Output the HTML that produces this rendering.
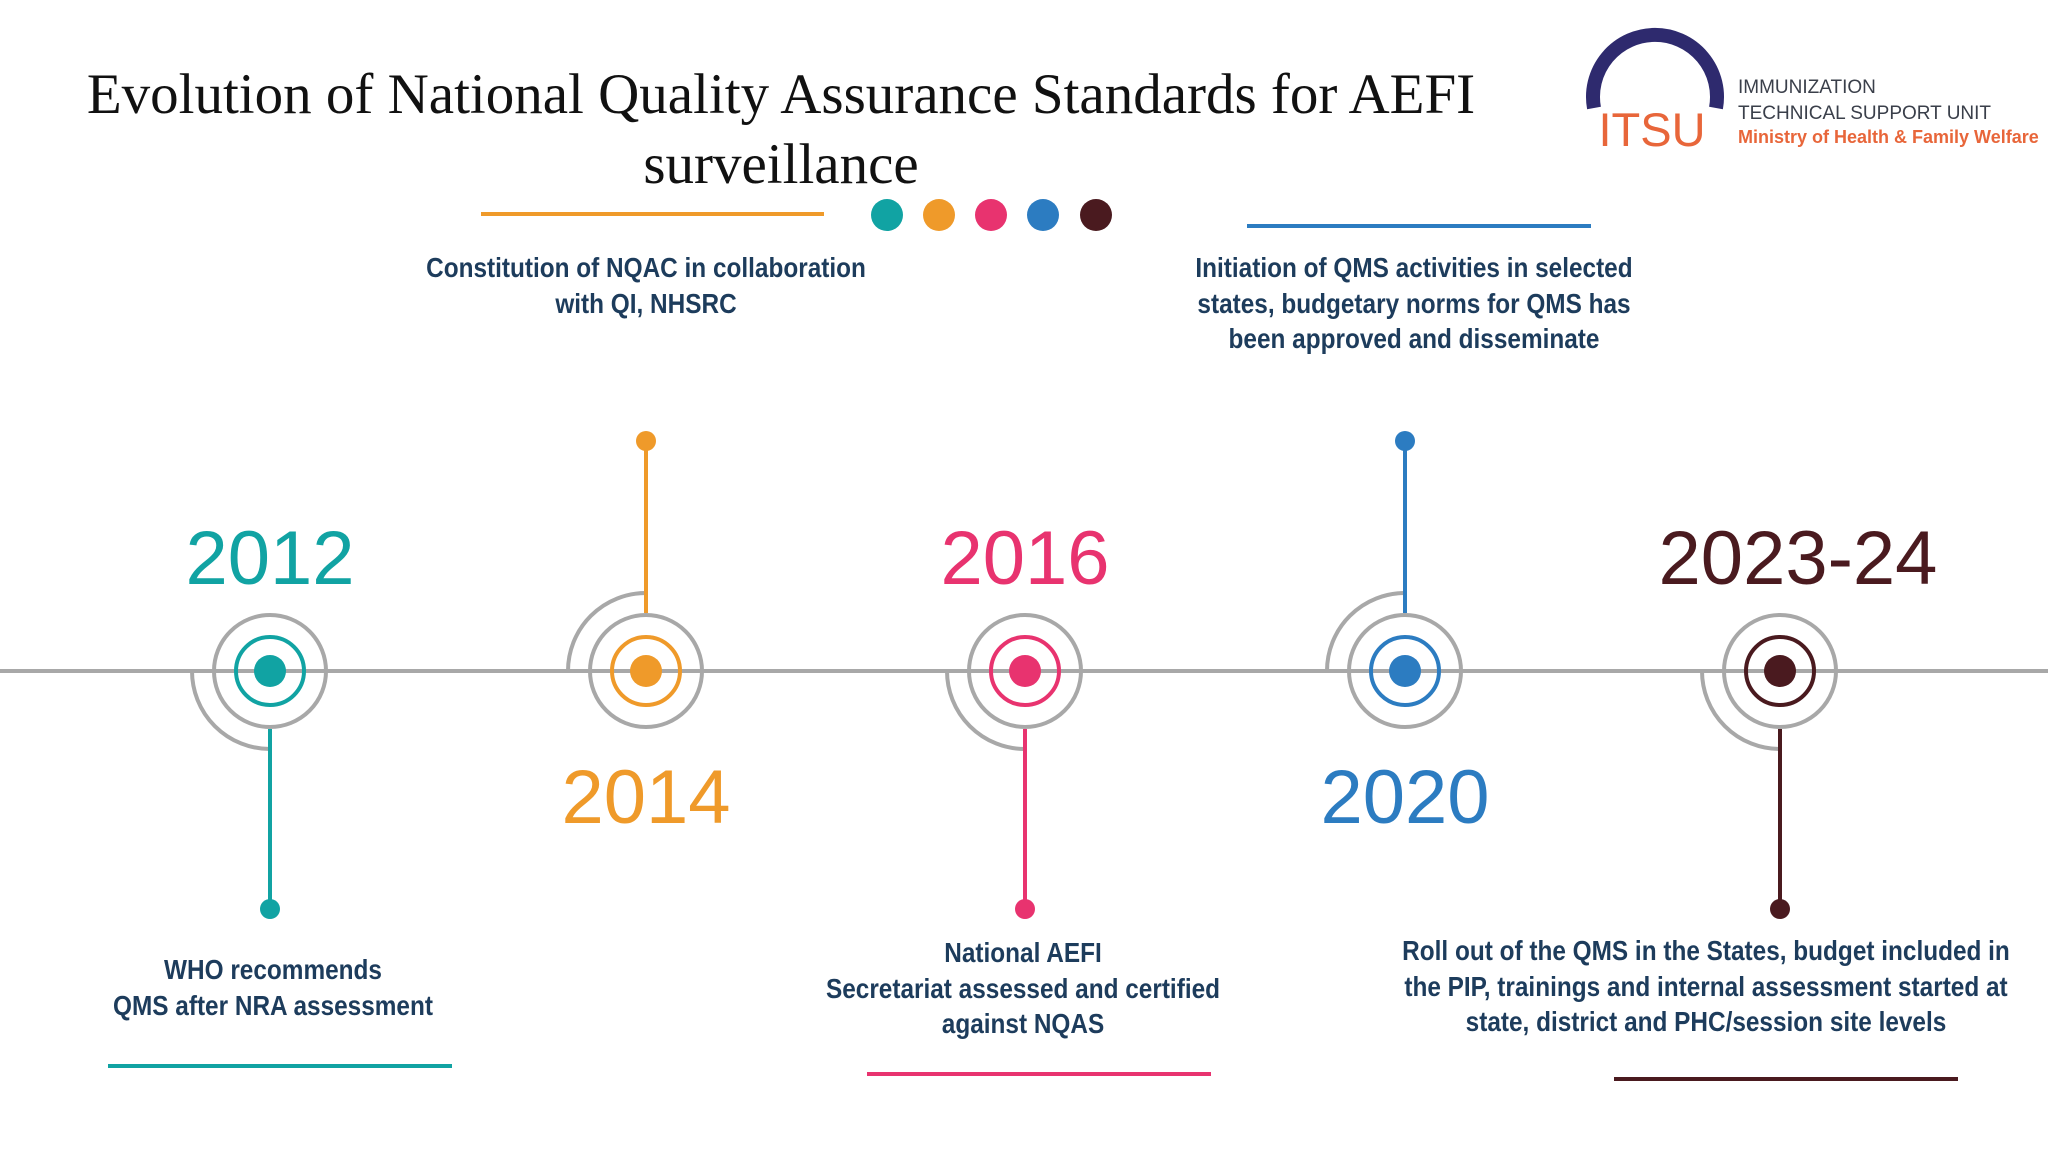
<!DOCTYPE html>
<html><head><meta charset="utf-8">
<style>
html,body{margin:0;padding:0;background:#fff;}
#wrap{position:relative;width:2048px;height:1152px;overflow:hidden;background:#fff;}
.title{position:absolute;left:0;width:1562px;top:60px;text-align:center;font-family:"Liberation Serif",serif;font-size:57px;line-height:70px;color:#111;}
.desc{position:absolute;font-family:"Liberation Sans Narrow","Liberation Sans",sans-serif;font-weight:bold;font-size:28px;line-height:35.5px;color:#1d3c5c;text-align:center;white-space:nowrap;transform:translateX(-50%) scaleX(0.87);}
</style></head>
<body>
<div id="wrap">
<div class="title">Evolution of National Quality Assurance Standards for AEFI<br>surveillance</div>

<svg id="logo" style="position:absolute;left:0;top:0" width="2048" height="200">
  <path d="M1594,108 A62,62 0 1 1 1716,108" fill="none" stroke="#2e2a6e" stroke-width="14"/>
  <text x="1652" y="146" text-anchor="middle" font-family="Liberation Sans, sans-serif" font-size="47" fill="#e8663a">ITSU</text>
  <text x="1738" y="93" font-family="Liberation Sans, sans-serif" font-size="19" fill="#3a3f4a">IMMUNIZATION</text>
  <text x="1738" y="119" font-family="Liberation Sans, sans-serif" font-size="19" fill="#3a3f4a">TECHNICAL SUPPORT UNIT</text>
  <text x="1738" y="143" font-family="Liberation Sans, sans-serif" font-size="18" font-weight="bold" fill="#e8663a">Ministry of Health &amp; Family Welfare</text>
</svg>

<svg id="chart" style="position:absolute;left:0;top:0" width="2048" height="1152"></svg>

<div class="desc" style="left:646px;top:250px">Constitution of NQAC in collaboration<br>with QI, NHSRC</div>
<div class="desc" style="left:1414px;top:250px">Initiation of QMS activities in selected<br>states, budgetary norms for QMS has<br>been approved and disseminate</div>
<div class="desc" style="left:273px;top:952px">WHO recommends<br>QMS after NRA assessment</div>
<div class="desc" style="left:1023px;top:935px">National AEFI<br>Secretariat assessed and certified<br>against NQAS</div>
<div class="desc" style="left:1706px;top:933px">Roll out of the QMS in the States, budget included in<br>the PIP, trainings and internal assessment started at<br>state, district and PHC/session site levels</div>
</div>
<script>
const years = ["2012","2014","2016","2020","2023-24"];
const xPositions = [270, 646, 1025, 1405, 1780];
const sides = ["down","up","down","up","down"];
const colors = ["#11a3a3","#ef9a2a","#e8336f","#2c7cc1","#4a1a1f"];
const NS = "http://www.w3.org/2000/svg";
const svg = document.getElementById('chart');
function mk(tag, attrs){const e=document.createElementNS(NS,tag);for(const k in attrs)e.setAttribute(k,attrs[k]);svg.appendChild(e);return e;}
const Y = 671;
let ax = mk('line',{x1:0,y1:Y,x2:2048,y2:Y,stroke:'#a8a8a8','stroke-width':4});


const dotX = [887,939,991,1043,1096];
colors.forEach((c,i)=>{
  const d = mk('circle',{cx:dotX[i],cy:215,r:16,fill:c});
  
  
});
const ul = [[481,824,214,1],[1247,1591,226,3],[108,452,1066,0],[867,1211,1074,2],[1614,1958,1079,4]];
ul.forEach(u=>{
  const l = mk('line',{x1:u[0],x2:u[1],y1:u[2],y2:u[2],stroke:colors[u[3]],'stroke-width':4});
  
  
});
years.forEach((yr,i)=>{
  const cx = xPositions[i], c = colors[i], up = sides[i]==='up';
  const arc = up ? `M${cx-78},${Y} A78,78 0 0 1 ${cx},${Y-78}` : `M${cx-78},${Y} A78,78 0 0 0 ${cx},${Y+78}`;
  const a = mk('path',{d:arc,fill:'none',stroke:'#a8a8a8','stroke-width':4});
  
  
  const o = mk('circle',{cx:cx,cy:Y,r:56,fill:'none',stroke:'#a8a8a8','stroke-width':4});
  
  
  const r = mk('circle',{cx:cx,cy:Y,r:34,fill:'none',stroke:c,'stroke-width':4});
  
  
  const d = mk('circle',{cx:cx,cy:Y,r:16,fill:c});
  
  
  const sy1 = up ? Y-58 : Y+58, sy2 = up ? 441 : 909;
  const s = mk('line',{x1:cx,x2:cx,y1:sy1,y2:sy2,stroke:c,'stroke-width':4});
  
  
  const e = mk('circle',{cx:cx,cy:sy2,r:10,fill:c});
  
  
  const t = mk('text',{x:cx + (yr.length>4?18:0),y:up?823:584,'text-anchor':'middle','font-family':'Liberation Sans, sans-serif','font-size':76,fill:c});
  t.textContent = yr;
  
  
});
</script>
</body></html>
